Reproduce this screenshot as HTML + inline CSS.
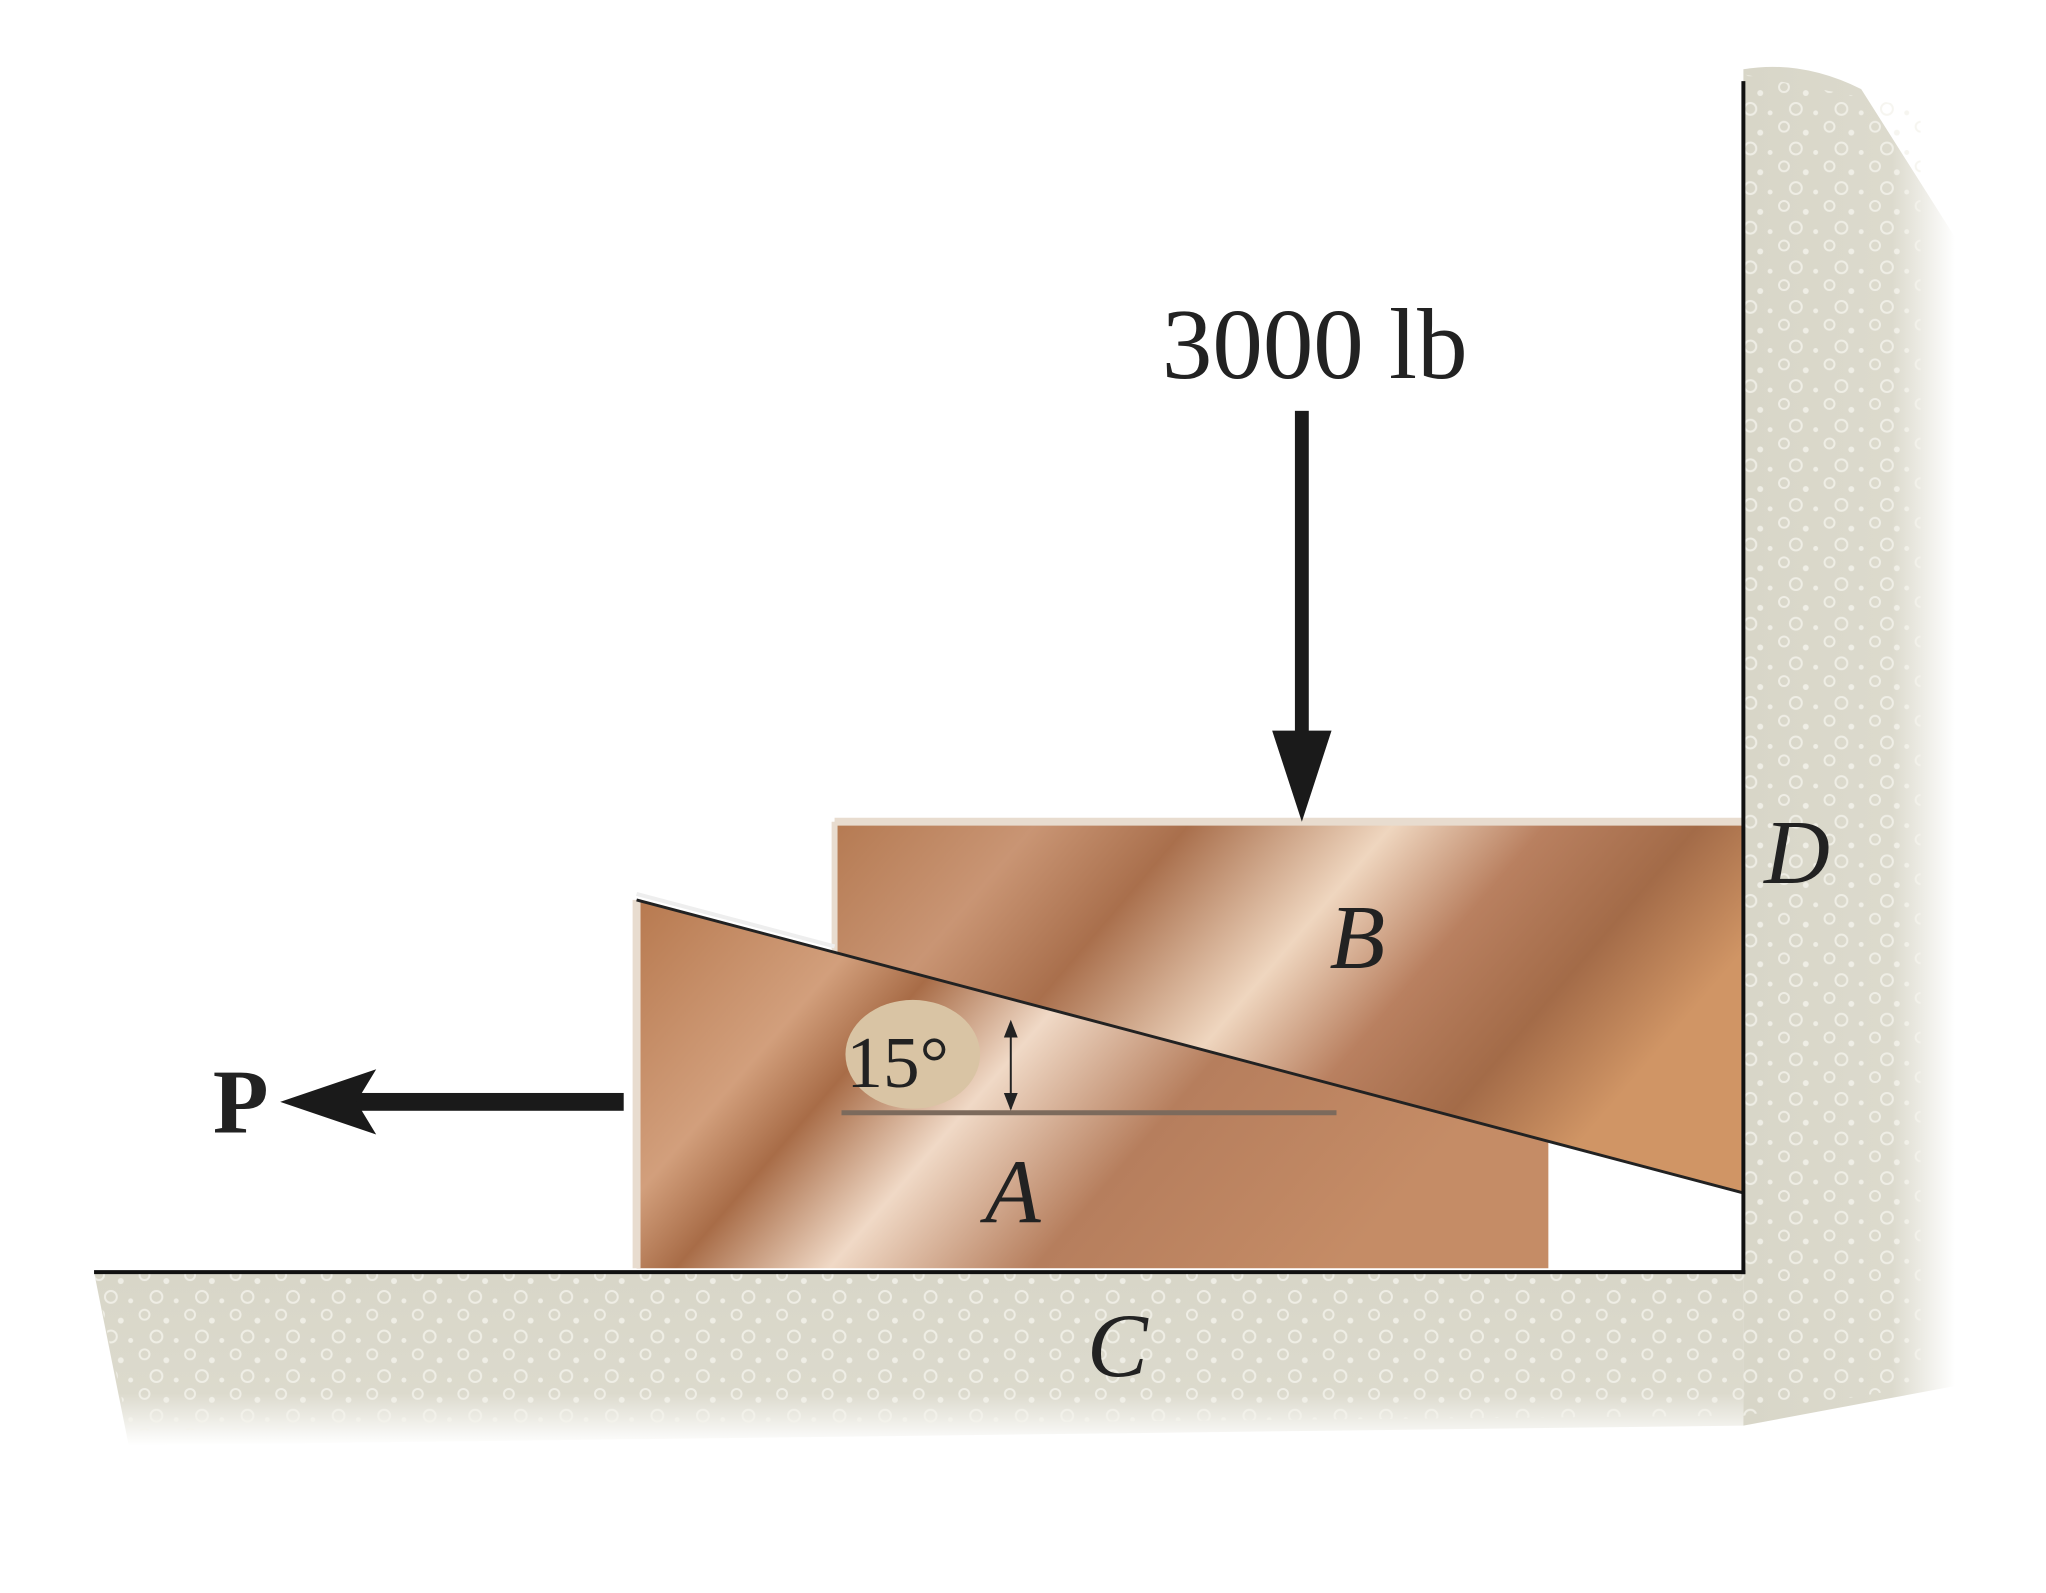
<!DOCTYPE html>
<html><head><style>html,body{margin:0;padding:0;background:#fff}svg{display:block}</style></head>
<body>
<svg width="2046" height="1593" viewBox="0 0 2046 1593" xmlns="http://www.w3.org/2000/svg">
<defs>
<linearGradient id="cu" x1="0" y1="0" x2="1" y2="0.35">
<stop offset="0" stop-color="#b57a52"/>
<stop offset="0.2" stop-color="#c99574"/>
<stop offset="0.35" stop-color="#a96f4c"/>
<stop offset="0.55" stop-color="#efd6bf"/>
<stop offset="0.7" stop-color="#b98060"/>
<stop offset="0.85" stop-color="#a36b48"/>
<stop offset="1" stop-color="#d09565"/>
</linearGradient>
<linearGradient id="cuA" x1="0" y1="0" x2="1" y2="0.35">
<stop offset="0" stop-color="#b7794f"/>
<stop offset="0.25" stop-color="#d29f7c"/>
<stop offset="0.35" stop-color="#a86c47"/>
<stop offset="0.5" stop-color="#f0d9c6"/>
<stop offset="0.7" stop-color="#b67e5d"/>
<stop offset="1" stop-color="#c58c66"/>
</linearGradient>
<linearGradient id="gfade" x1="0" y1="0" x2="0" y2="1">
<stop offset="0" stop-color="#d8d6c8"/>
<stop offset="0.7" stop-color="#dcdacd"/>
<stop offset="1" stop-color="#ffffff"/>
</linearGradient>
<linearGradient id="wfade" x1="0" y1="0" x2="1" y2="0">
<stop offset="0" stop-color="#d8d6c8"/>
<stop offset="0.7" stop-color="#dcdacd"/>
<stop offset="1" stop-color="#ffffff"/>
</linearGradient>
<pattern id="dots" width="46" height="40" patternUnits="userSpaceOnUse">
<circle cx="8" cy="8" r="5" fill="none" stroke="#f4f3ec" stroke-width="2"/>
<circle cx="30" cy="14" r="3" fill="#f4f3ec"/>
<circle cx="20" cy="30" r="6" fill="none" stroke="#f4f3ec" stroke-width="2"/>
<circle cx="40" cy="34" r="2.5" fill="#f4f3ec"/>
</pattern>
</defs>
<g transform="scale(0.99)">
<!-- ground -->
<path d="M95,1285 L1761,1285 L1761,1440 L130,1460 Z" fill="url(#gfade)"/>
<path d="M95,1285 L1761,1285 L1761,1430 L130,1445 Z" fill="url(#dots)" opacity="0.8"/>
<!-- wall -->
<path d="M1761,70 Q1820,60 1880,90 L1975,240 L1975,1400 L1761,1440 Z" fill="url(#wfade)"/>
<path d="M1761,75 L1940,110 L1940,1400 L1761,1430 Z" fill="url(#dots)" opacity="0.8"/>
<!-- block A -->
<polygon points="643,909 1564,1153 1564,1281 643,1281" fill="url(#cuA)"/>
<line x1="643" y1="909" x2="643" y2="1281" stroke="#e8dccf" stroke-width="8"/>
<!-- block B -->
<polygon points="843,830 1761,830 1761,1205 843,962" fill="url(#cu)"/>
<line x1="843" y1="830" x2="1761" y2="830" stroke="#e8dccf" stroke-width="8"/>
<line x1="843" y1="830" x2="843" y2="962" stroke="#e8dccf" stroke-width="6"/>
<!-- slope line -->
<line x1="643" y1="909" x2="1761" y2="1205" stroke="#222" stroke-width="3"/>
<line x1="643" y1="903" x2="843" y2="956" stroke="#eee" stroke-width="4"/>
<!-- walls lines -->
<line x1="95" y1="1285" x2="1763" y2="1285" stroke="#111" stroke-width="4"/>
<line x1="1761" y1="82" x2="1761" y2="1287" stroke="#111" stroke-width="4"/>
<!-- angle -->
<ellipse cx="922" cy="1065" rx="68" ry="55" fill="#d9c4a4"/>
<line x1="850" y1="1124" x2="1350" y2="1124" stroke="#7c6a5c" stroke-width="5"/>
<line x1="1021" y1="1035" x2="1021" y2="1120" stroke="#222" stroke-width="2"/>
<polygon points="1021,1030 1014,1048 1028,1048" fill="#222"/>
<polygon points="1021,1122 1014,1104 1028,1104" fill="#222"/>
<text x="855" y="1098" font-family="Liberation Serif, serif" font-size="74" fill="#222">15°</text>
<!-- 3000 lb arrow -->
<rect x="1308" y="415" width="14" height="330" fill="#1a1a1a"/>
<polygon points="1285,738 1345,738 1315,830" fill="#1a1a1a"/>
<text x="1328" y="382" text-anchor="middle" font-family="Liberation Serif, serif" font-size="102" fill="#222">3000 lb</text>
<!-- P arrow -->
<rect x="355" y="1104" width="275" height="18" fill="#1a1a1a"/>
<polygon points="283,1113 380,1080 360,1113 380,1146" fill="#1a1a1a"/>
<text x="215" y="1144" font-family="Liberation Serif, serif" font-weight="bold" font-size="92" fill="#222">P</text>
<!-- labels -->
<g font-family="Liberation Serif, serif" font-style="italic" font-size="92" fill="#222">
<text x="1782" y="892">D</text>
<text x="1343" y="978">B</text>
<text x="995" y="1235">A</text>
<text x="1098" y="1390">C</text>
</g>
</g>
</svg>
</body></html>
